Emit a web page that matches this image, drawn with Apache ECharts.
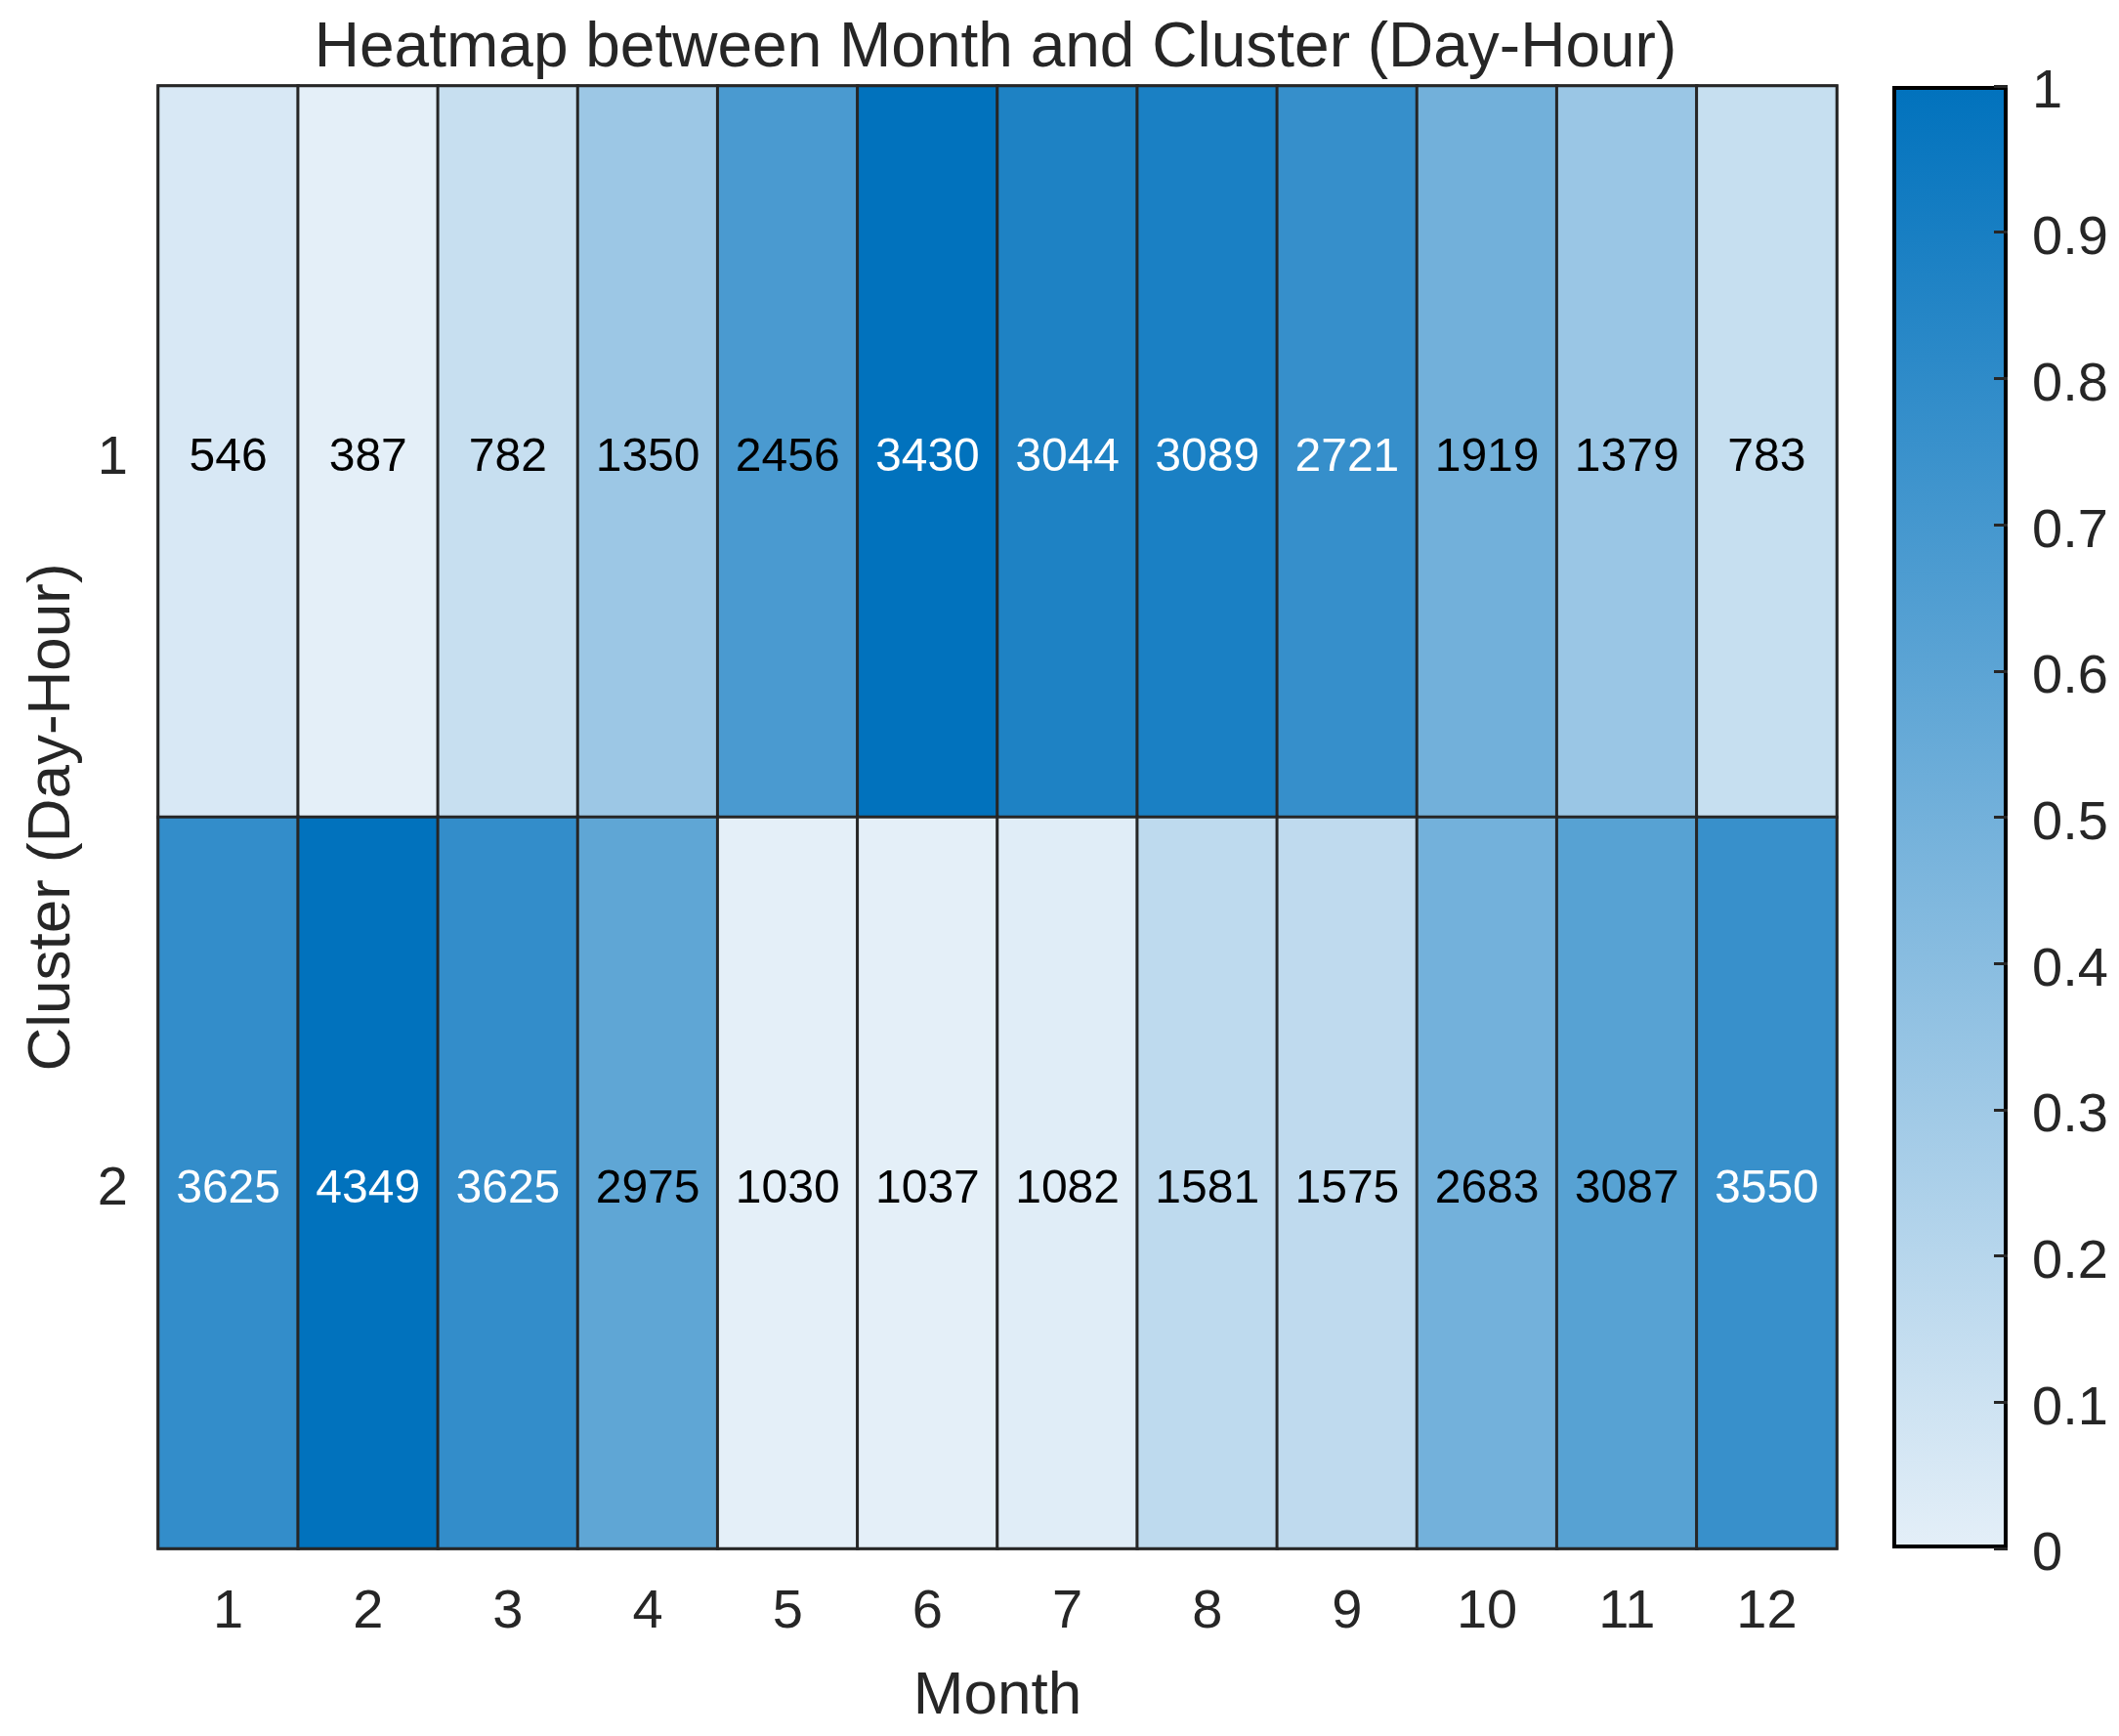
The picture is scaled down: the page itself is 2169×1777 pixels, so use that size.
<!DOCTYPE html>
<html>
<head>
<meta charset="utf-8">
<script src="https://cdn.jsdelivr.net/npm/echarts@6/dist/echarts.min.js"></script>
<style>
  html, body { margin: 0; padding: 0; background: #fff; }
  #chart { width: 2169px; height: 1777px; }
</style>
</head>
<body>
<div id="chart"></div>
<script>
// 月份（横轴）与聚类（纵轴）
const months = ['1', '2', '3', '4', '5', '6', '7', '8', '9', '10', '11', '12']
const clusters = ['1', '2']
// 每个聚类在各月份的计数
const cluster1 = [546, 387, 782, 1350, 2456, 3430, 3044, 3089, 2721, 1919, 1379, 783]
const cluster2 = [3625, 4349, 3625, 2975, 1030, 1037, 1082, 1581, 1575, 2683, 3087, 3550]
const colorbarTicks = [0, 1] // 色条范围

const FONT = 'Liberation Sans, Arial, Helvetica, sans-serif'
const TEXT = '#262626'
const LIGHT = '#e4eff8'
const DARK = '#0172bd'

// 每行按最小/最大值归一化到 0~1
function buildRow(values, row) {
  const min = Math.min(...values)
  const max = Math.max(...values)
  return values.map((v, i) => {
    const norm = (v - min) / (max - min)
    return {
      value: [i, row, v, norm],
      label: { color: norm > 0.7 ? '#ffffff' : '#000000' },
    }
  })
}
const heatData = [...buildRow(cluster1, 0), ...buildRow(cluster2, 1)]

// 标签略微下移（rich 上边距）
const shifted = { t: { fontFamily: FONT, fontSize: 56, color: TEXT, padding: [14, 0, 0, 0] } }

const chart = echarts.init(document.getElementById('chart'))
chart.setOption({
  backgroundColor: '#fff',
  animation: false,
  title: {
    text: 'Heatmap between Month and Cluster (Day-Hour)',
    left: 1014,
    top: 13,
    textAlign: 'center',
    textStyle: { fontFamily: FONT, fontSize: 64, fontWeight: 'normal', color: TEXT },
  },
  grid: [
    { left: 162, top: 88, width: 1718, height: 1497, show: true, borderColor: TEXT, borderWidth: 3 },
    { left: 1937, top: 88, width: 118, height: 1497 },
  ],
  xAxis: [
    {
      gridIndex: 0,
      type: 'category',
      data: months,
      name: 'Month',
      nameLocation: 'middle',
      nameGap: 121,
      nameTextStyle: { fontFamily: FONT, fontSize: 62, color: TEXT },
      axisLine: { show: false },
      axisTick: { show: false },
      splitArea: { show: false },
      axisLabel: { fontFamily: FONT, fontSize: 56, color: TEXT, margin: 38, lineHeight: 56 },
    },
    {
      gridIndex: 1,
      type: 'category',
      data: [''],
      show: false,
    },
  ],
  yAxis: [
    {
      gridIndex: 0,
      type: 'category',
      data: clusters,
      inverse: true,
      name: 'Cluster (Day-Hour)',
      nameLocation: 'middle',
      nameGap: 77,
      nameRotate: 90,
      nameTextStyle: { fontFamily: FONT, fontSize: 62, color: TEXT },
      axisLine: { show: false },
      axisTick: { show: false },
      axisLabel: {
        margin: 31,
        formatter: v => '{t|' + v + '}',
        rich: shifted,
      },
    },
    {
      gridIndex: 1,
      type: 'value',
      position: 'right',
      min: colorbarTicks[0],
      max: colorbarTicks[1],
      interval: 0.1,
      axisLine: { show: false },
      axisTick: { show: true, inside: true, length: 14, lineStyle: { color: TEXT, width: 3 } },
      splitLine: { show: false },
      axisLabel: {
        margin: 25,
        formatter: v => '{t|' + String(Math.round(v * 10) / 10) + '}',
        rich: shifted,
      },
      z: 10,
    },
  ],
  visualMap: {
    show: false,
    type: 'continuous',
    dimension: 3,
    seriesIndex: 0,
    min: 0,
    max: 1,
    inRange: { color: [LIGHT, DARK] },
  },
  series: [
    {
      type: 'heatmap',
      xAxisIndex: 0,
      yAxisIndex: 0,
      data: heatData,
      itemStyle: { borderColor: TEXT, borderWidth: 3 },
      label: {
        show: true,
        fontFamily: FONT,
        fontSize: 48,
        offset: [0, 7],
        formatter: p => String(p.value[2]),
      },
      emphasis: { disabled: true },
    },
    {
      // 色条
      type: 'bar',
      xAxisIndex: 1,
      yAxisIndex: 1,
      data: [colorbarTicks[1]],
      barWidth: '100%',
      itemStyle: {
        color: new echarts.graphic.LinearGradient(0, 0, 0, 1, [
          { offset: 0, color: DARK },
          { offset: 1, color: LIGHT },
        ]),
        borderColor: '#000',
        borderWidth: 4,
      },
      emphasis: { disabled: true },
      silent: true,
    },
  ],
})
</script>
</body>
</html>
